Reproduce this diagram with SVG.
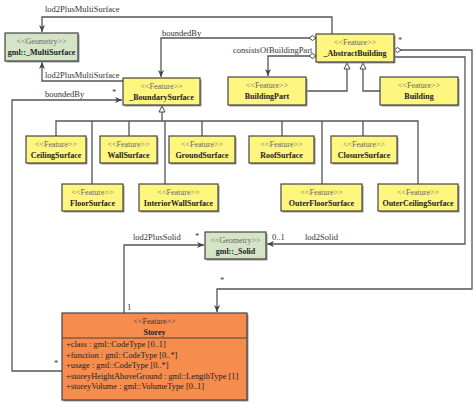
<svg xmlns="http://www.w3.org/2000/svg" width="474" height="405" viewBox="0 0 474 405">
<defs>
<style>
text{font-family:"Liberation Serif","Times New Roman",serif;fill:#333;}
.lbl{font-size:8.5px;}
.st{font-size:8px;fill:#666;text-anchor:middle;}
.nm{font-size:8px;font-weight:bold;fill:#222;text-anchor:middle;}
.at{font-size:8.4px;fill:#222;}
.box{stroke:#444;stroke-width:1.2;}
.feat{fill:#fff67f;}
.geo{fill:#d4e4c6;}
.sty{fill:#f68c4e;}
.shd{fill:#999;}
.c{fill:none;stroke:#555;stroke-width:1.3;}
</style>
<marker id="arr" markerWidth="8" markerHeight="8" refX="7" refY="4" orient="auto" markerUnits="userSpaceOnUse">
<path d="M0,1 L7,4 L0,7 L2,4 Z" fill="#444"/>
</marker>
<marker id="gen" markerWidth="8" markerHeight="8" refX="7" refY="4" orient="auto" markerUnits="userSpaceOnUse">
<path d="M1,1 L7,4 L1,7 Z" fill="#fff" stroke="#444" stroke-width="1"/>
</marker>
<marker id="dia" markerWidth="10" markerHeight="8" refX="1" refY="4" orient="auto" markerUnits="userSpaceOnUse">
<path d="M1,4 L4.5,1.5 L8,4 L4.5,6.5 Z" fill="#fff" stroke="#444" stroke-width="1"/>
</marker>
</defs>
<rect width="474" height="405" fill="#fff"/>

<g id="connectors">
<path class="c" d="M332,34 V17 H42 V32" marker-end="url(#arr)"/>
<path class="c" d="M123,81 H42 V62" marker-end="url(#arr)"/>
<path class="c" d="M62,371 H12 V100 H122" marker-end="url(#arr)"/>
<path class="c" d="M316,38 H161 V77" marker-start="url(#dia)" marker-end="url(#arr)"/>
<path class="c" d="M316,56 H268 V76" marker-start="url(#dia)" marker-end="url(#arr)"/>
<path class="c" d="M307,91 H347 V63" marker-end="url(#gen)"/>
<path class="c" d="M380,91 H363 V63" marker-end="url(#gen)"/>
<path class="c" d="M394,57 H465 V244 H267" marker-end="url(#arr)"/>
<path class="c" d="M394,50 H472 V289 H217 V312" marker-start="url(#dia)" marker-end="url(#arr)"/>
<path class="c" d="M124,313 V245 H204" marker-end="url(#arr)"/>
<path class="c" d="M162,121 V106" marker-end="url(#gen)"/>
<path class="c" d="M56,136 V121 H418 V184"/>
<path class="c" d="M129,121 V136 M202,121 V136 M282,121 V136 M363,121 V136 M92,121 V184 M165,121 V184 M322,121 V184"/>
<text class="lbl" x="45" y="12">lod2PlusMultiSurface</text>
<text class="lbl" x="45" y="78">lod2PlusMultiSurface</text>
<text class="lbl" x="45" y="97">boundedBy</text>
<text class="lbl" x="112" y="95">*</text>
<text class="lbl" x="54" y="366">*</text>
<text class="lbl" x="162" y="36">boundedBy</text>
<text class="lbl" x="233" y="53">consistsOfBuildingPart</text>
<text class="lbl" x="398" y="43">*</text>
<text class="lbl" x="272" y="240">0..1</text>
<text class="lbl" x="305" y="240">lod2Solid</text>
<text class="lbl" x="133" y="240">lod2PlusSolid</text>
<text class="lbl" x="195" y="239">*</text>
<text class="lbl" x="127" y="310">1</text>
<text class="lbl" x="220" y="283">*</text>
</g>

<g id="multisurface">
<rect class="shd" x="6.5" y="34.5" width="73" height="28"/>
<rect class="box geo" x="5" y="33" width="73" height="28"/>
<text class="st" x="41.5" y="44">&lt;&lt;Geometry&gt;&gt;</text>
<text class="nm" x="41.5" y="55">gml::_MultiSurface</text>
</g>

<g id="boundarysurface">
<rect class="shd" x="124.5" y="79.5" width="77" height="27"/>
<rect class="box feat" x="123" y="78" width="77" height="27"/>
<text class="st" x="161.5" y="89">&lt;&lt;Feature&gt;&gt;</text>
<text class="nm" x="161.5" y="100">_BoundarySurface</text>
</g>

<g id="abstractbuilding">
<rect class="shd" x="317.5" y="35.5" width="78" height="28"/>
<rect class="box feat" x="316" y="34" width="78" height="28"/>
<text class="st" x="355" y="45">&lt;&lt;Feature&gt;&gt;</text>
<text class="nm" x="355" y="56">_AbstractBuilding</text>
</g>

<g id="buildingpart">
<rect class="shd" x="229.5" y="78.5" width="78" height="28"/>
<rect class="box feat" x="228" y="77" width="78" height="28"/>
<text class="st" x="267" y="88">&lt;&lt;Feature&gt;&gt;</text>
<text class="nm" x="267" y="99">BuildingPart</text>
</g>

<g id="building">
<rect class="shd" x="381.5" y="78.5" width="78" height="28"/>
<rect class="box feat" x="380" y="77" width="78" height="28"/>
<text class="st" x="419" y="88">&lt;&lt;Feature&gt;&gt;</text>
<text class="nm" x="419" y="99">Building</text>
</g>

<g id="ceilingsurface">
<rect class="shd" x="27.5" y="137.5" width="60" height="27"/>
<rect class="box feat" x="26" y="136" width="60" height="27"/>
<text class="st" x="56" y="147">&lt;&lt;Feature&gt;&gt;</text>
<text class="nm" x="56" y="158">CeilingSurface</text>
</g>

<g id="wallsurface">
<rect class="shd" x="101.5" y="137.5" width="57" height="27"/>
<rect class="box feat" x="100" y="136" width="57" height="27"/>
<text class="st" x="128.5" y="147">&lt;&lt;Feature&gt;&gt;</text>
<text class="nm" x="128.5" y="158">WallSurface</text>
</g>

<g id="groundsurface">
<rect class="shd" x="170.5" y="137.5" width="66" height="27"/>
<rect class="box feat" x="169" y="136" width="66" height="27"/>
<text class="st" x="202" y="147">&lt;&lt;Feature&gt;&gt;</text>
<text class="nm" x="202" y="158">GroundSurface</text>
</g>

<g id="roofsurface">
<rect class="shd" x="250.5" y="137.5" width="65" height="27"/>
<rect class="box feat" x="249" y="136" width="65" height="27"/>
<text class="st" x="281.5" y="147">&lt;&lt;Feature&gt;&gt;</text>
<text class="nm" x="281.5" y="158">RoofSurface</text>
</g>

<g id="closuresurface">
<rect class="shd" x="332.5" y="137.5" width="66" height="27"/>
<rect class="box feat" x="331" y="136" width="66" height="27"/>
<text class="st" x="364" y="147">&lt;&lt;Feature&gt;&gt;</text>
<text class="nm" x="364" y="158">ClosureSurface</text>
</g>

<g id="floorsurface">
<rect class="shd" x="63.5" y="185.5" width="61" height="27"/>
<rect class="box feat" x="62" y="184" width="61" height="27"/>
<text class="st" x="92.5" y="195">&lt;&lt;Feature&gt;&gt;</text>
<text class="nm" x="92.5" y="206">FloorSurface</text>
</g>

<g id="interiorwallsurface">
<rect class="shd" x="140.5" y="185.5" width="79" height="27"/>
<rect class="box feat" x="139" y="184" width="79" height="27"/>
<text class="st" x="178.5" y="195">&lt;&lt;Feature&gt;&gt;</text>
<text class="nm" x="178.5" y="206">InteriorWallSurface</text>
</g>

<g id="outerfloorsurface">
<rect class="shd" x="282.5" y="185.5" width="81" height="27"/>
<rect class="box feat" x="281" y="184" width="81" height="27"/>
<text class="st" x="321.5" y="195">&lt;&lt;Feature&gt;&gt;</text>
<text class="nm" x="321.5" y="206">OuterFloorSurface</text>
</g>

<g id="outerceilingsurface">
<rect class="shd" x="379.5" y="185.5" width="80" height="27"/>
<rect class="box feat" x="378" y="184" width="80" height="27"/>
<text class="st" x="418" y="195">&lt;&lt;Feature&gt;&gt;</text>
<text class="nm" x="418" y="206">OuterCeilingSurface</text>
</g>

<g id="solid">
<rect class="shd" x="206.5" y="233.5" width="61" height="27"/>
<rect class="box geo" x="205" y="232" width="61" height="27"/>
<text class="st" x="235.5" y="243">&lt;&lt;Geometry&gt;&gt;</text>
<text class="nm" x="235.5" y="254">gml::_Solid</text>
</g>

<g id="storey">
<rect class="shd" x="63.5" y="314.5" width="185" height="87"/>
<rect class="box sty" x="62" y="313" width="185" height="87"/>
<line x1="62" y1="338" x2="247" y2="338" stroke="#444" stroke-width="1.2"/>
<text class="st" x="154.5" y="324" style="fill:#333">&lt;&lt;Feature&gt;&gt;</text>
<text class="nm" x="154.5" y="335">Storey</text>
<text class="at" x="66" y="347">+class : gml::CodeType [0..1]</text>
<text class="at" x="66" y="357.5">+function : gml::CodeType [0..*]</text>
<text class="at" x="66" y="368">+usage : gml::CodeType [0..*]</text>
<text class="at" x="66" y="378.5">+storeyHeightAboveGround : gml::LengthType [1]</text>
<text class="at" x="66" y="389">+storeyVolume : gml::VolumeType [0..1]</text>
</g>
</svg>
